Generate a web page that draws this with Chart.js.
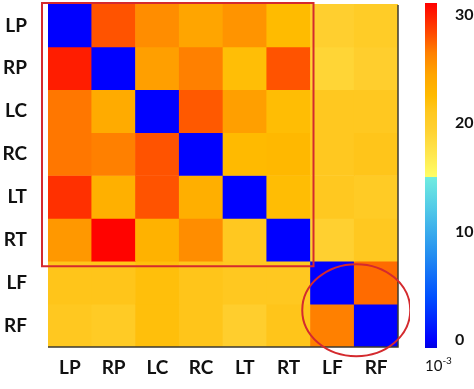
<!DOCTYPE html>
<html>
<head>
<meta charset="utf-8">
<script src="https://cdn.jsdelivr.net/npm/chart.js@4/dist/chart.umd.min.js"></script>
<style>
  body { margin: 0; background: #fff; }
  #wrap { position: relative; width: 474px; height: 389px; overflow: hidden; }
  #heat { position: absolute; left: 0; top: 0; }
  #bar { position: absolute; left: 410px; top: 0; }
  #unit { position: absolute; left: 425px; top: 355px; font: 15px Lato, sans-serif; color: #111; }
  #unit sup { font-size: 10px; position: relative; top: -1px; }
</style>
</head>
<body>
<div id="wrap">
  <canvas id="heat" width="410" height="389"></canvas>
  <canvas id="bar" width="64" height="389"></canvas>
  <div id="unit">10<sup>-3</sup></div>
</div>
<script>
// regions, same order on both axes
const regions = ['LP', 'RP', 'LC', 'RC', 'LT', 'RT', 'LF', 'RF'];

// one row of the matrix per region (units of 10^-3)
const rowLP = [0, 28.0, 25.8, 24.5, 25.4, 22.5, 19.6, 20.3];
const rowRP = [30.0, 0, 24.8, 26.5, 22.2, 28.0, 19.0, 19.8];
const rowLC = [26.8, 24.0, 0, 27.8, 24.8, 22.3, 21.0, 21.0];
const rowRC = [26.8, 26.5, 28.0, 0, 22.6, 22.8, 21.0, 21.3];
const rowLT = [29.3, 23.5, 28.0, 23.6, 0, 22.3, 21.0, 20.5];
const rowRT = [25.2, 31.0, 23.3, 25.8, 21.0, 0, 19.5, 21.0];
const rowLF = [21.3, 21.3, 22.0, 21.3, 21.0, 21.0, 0, 27.2];
const rowRF = [21.0, 20.5, 22.0, 21.3, 19.8, 21.3, 26.5, 0];
const rows = [rowLP, rowRP, rowLC, rowRC, rowLT, rowRT, rowLF, rowRF];

// colour bar range and ticks
const barMin = -0.74;
const barMax = 31.1;
const barTicks = [0, 10, 20, 30];

// colour map: blue -> cyan, then a hard step to yellow -> red
const cmap = [
    [-0.74, '#0000e0'], [0, '#0000ff'], [4, '#0050ff'], [8, '#2590f0'],
    [12, '#50c8e8'], [15, '#70ece0'],
    [15, '#ffff66'], [17, '#ffe850'], [19.5, '#ffd030'], [21, '#ffc820'],
    [22.5, '#ffbb00'], [24.5, '#ffa500'], [26.5, '#ff8000'], [28.3, '#ff4a00'],
    [31.1, '#ff0000']
];

function hexToRgb(h) {
    return [parseInt(h.slice(1, 3), 16), parseInt(h.slice(3, 5), 16), parseInt(h.slice(5, 7), 16)];
}

function colorFor(v) {
    if (v <= cmap[0][0]) return cmap[0][1];
    for (let i = 0; i < cmap.length - 1; i++) {
        const [v0, c0] = cmap[i];
        const [v1, c1] = cmap[i + 1];
        if (v >= v0 && v <= v1) {
            if (v1 === v0) return c1;
            const t = (v - v0) / (v1 - v0);
            const a = hexToRgb(c0), b = hexToRgb(c1);
            const m = a.map((x, k) => Math.round(x + (b[k] - x) * t));
            return `rgb(${m[0]},${m[1]},${m[2]})`;
        }
    }
    return cmap[cmap.length - 1][1];
}

const labelFont = { family: 'Lato, sans-serif', size: 19, weight: 'bold' };

// stop the tick labels from shrinking the plot area
function noPad(s) {
    s.paddingTop = 0;
    s.paddingBottom = 0;
    s.paddingLeft = 0;
    s.paddingRight = 0;
}

// red box, circle and dark frame on top of the cells
const overlay = {
    id: 'overlay',
    afterDatasetsDraw(chart) {
        const { ctx, chartArea, scales } = chart;
        const xs = scales.x, ys = scales.y;
        ctx.save();

        ctx.strokeStyle = '#3d3a30';
        ctx.lineWidth = 1.5;
        ctx.beginPath();
        ctx.moveTo(chartArea.left, chartArea.bottom);
        ctx.lineTo(chartArea.right, chartArea.bottom);
        ctx.lineTo(chartArea.right, chartArea.top + 1);
        ctx.stroke();

        ctx.strokeStyle = '#d42a2e';
        ctx.lineWidth = 2;
        const boxRight = xs.getPixelForValue(5.5) + 3;
        const boxBottom = ys.getPixelForValue(6) + 5;
        ctx.strokeRect(chartArea.left - 6, chartArea.top - 1, boxRight - chartArea.left + 6, boxBottom - chartArea.top + 1);

        const cx = xs.getPixelForValue(6.5) + 2;
        const cy = ys.getPixelForValue(7) + 6;
        ctx.beginPath();
        ctx.ellipse(cx, cy, 54, 46, 0, 0, Math.PI * 2);
        ctx.stroke();
        ctx.restore();
    }
};

new Chart(document.getElementById('heat'), {
    type: 'bar',
    data: {
        labels: regions,
        datasets: rows.map((r, i) => ({
            label: regions[i],
            data: r.map(() => 1),
            backgroundColor: r.map(colorFor),
            borderWidth: 0,
            barPercentage: 1,
            categoryPercentage: 1
        }))
    },
    options: {
        responsive: false,
        animation: false,
        layout: { padding: { top: 4, right: 12, left: 0, bottom: 0 } },
        plugins: { legend: { display: false }, tooltip: { enabled: false } },
        scales: {
            x: {
                stacked: true,
                grid: { display: false },
                border: { display: false },
                ticks: { font: labelFont, color: '#111', padding: 1, maxRotation: 0 },
                afterFit: (s) => { s.height = 42; noPad(s); }
            },
            y: {
                stacked: true,
                reverse: true,
                min: 0,
                max: 8,
                grid: { display: false },
                border: { display: false },
                afterBuildTicks: (s) => { s.ticks = regions.map((_, i) => ({ value: i + 0.5 })); },
                ticks: {
                    font: labelFont,
                    color: '#111',
                    padding: 13,
                    callback: (v) => regions[Math.floor(v)]
                },
                afterFit: (s) => { s.width = 48; noPad(s); }
            }
        }
    },
    plugins: [overlay]
});

function barGradient(c) {
    const { chart } = c;
    const { ctx, chartArea, scales } = chart;
    if (!chartArea) return null;
    const y0 = scales.y.getPixelForValue(barMin);
    const y1 = scales.y.getPixelForValue(barMax);
    const g = ctx.createLinearGradient(0, y0, 0, y1);
    cmap.forEach(([v, col]) => g.addColorStop((v - barMin) / (barMax - barMin), col));
    return g;
}

new Chart(document.getElementById('bar'), {
    type: 'bar',
    data: {
        labels: ['scale'],
        datasets: [{
            data: [[barMin, barMax]],
            backgroundColor: barGradient,
            borderWidth: 0,
            barPercentage: 1,
            categoryPercentage: 1
        }]
    },
    options: {
        responsive: false,
        animation: false,
        layout: { padding: { top: 3, left: 15, right: 0, bottom: 41 } },
        plugins: { legend: { display: false }, tooltip: { enabled: false } },
        scales: {
            x: { display: false },
            y: {
                position: 'right',
                min: barMin,
                max: barMax,
                grid: { display: false },
                border: { display: false },
                afterBuildTicks: (s) => { s.ticks = barTicks.map(v => ({ value: v })); },
                ticks: {
                    font: { family: 'Lato, sans-serif', size: 16, weight: 'bold' },
                    color: '#111',
                    padding: 10
                },
                afterFit: (s) => { s.width = 37; noPad(s); }
            }
        }
    }
});
</script>
</body>
</html>
